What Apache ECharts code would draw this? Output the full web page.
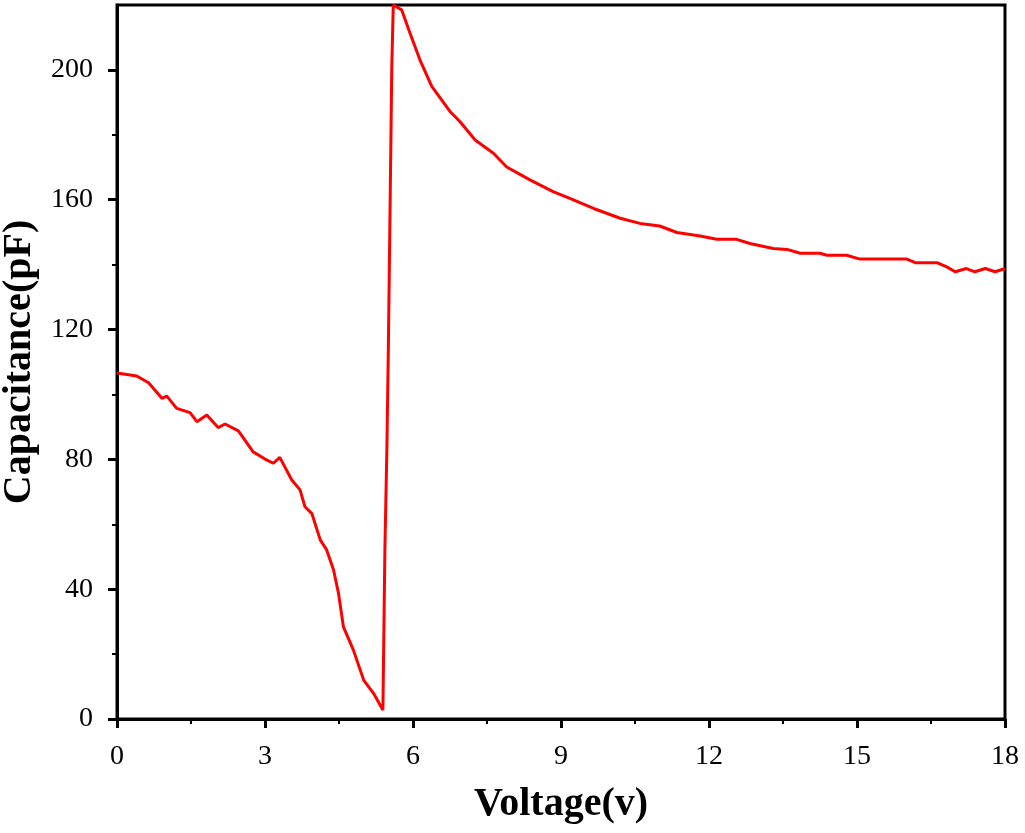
<!DOCTYPE html>
<html>
<head>
<meta charset="utf-8">
<script src="https://cdn.jsdelivr.net/npm/echarts@6/dist/echarts.min.js"></script>
<style>
  html, body { margin: 0; padding: 0; background: #fff; }
  #chart { width: 1025px; height: 833px; }
</style>
</head>
<body>
<div id="chart"></div>
<script>
// voltage (V) and capacitance (pF)
const voltage = [
  0, 0.40, 0.64, 0.91, 1.01, 1.21, 1.48, 1.62, 1.82, 2.05, 2.19, 2.46, 2.76, 3.0, 3.17, 3.30,
  3.54, 3.71, 3.81, 3.95, 4.12, 4.25, 4.39, 4.49, 4.59, 4.79, 5.0, 5.20, 5.39,
  5.43, 5.47, 5.50, 5.57, 5.60, 5.77, 5.94, 6.14, 6.38, 6.75, 6.95, 7.26, 7.63, 7.90,
  8.37, 8.84, 9.18, 9.66, 10.20, 10.60, 11.0, 11.35, 11.82, 12.16, 12.56, 12.83, 13.30,
  13.58, 13.85, 14.25, 14.39, 14.79, 15.06, 16.01, 16.18, 16.62, 16.82, 16.99, 17.22,
  17.39, 17.60, 17.80, 18.0
];
const capacitance = [
  106.6, 105.7, 103.6, 98.8, 99.5, 95.7, 94.4, 91.6, 93.7, 89.8, 90.9, 88.8, 82.3, 80.1, 78.8, 80.6,
  73.7, 70.6, 65.4, 63.3, 55.2, 52.1, 45.9, 38.7, 28.4, 21.3, 12.0, 7.9, 2.8,
  52, 82.9, 113.7, 201, 220, 218.5, 211.3, 203.1, 194.9, 187.2, 184.1, 178.4, 174.3, 170.1,
  166.1, 162.5, 160.4, 157.3, 154.3, 152.7, 151.9, 149.9, 148.8, 147.8, 147.8, 146.5, 145.0,
  144.7, 143.5, 143.5, 142.9, 142.9, 141.7, 141.7, 140.6, 140.6, 139.3, 137.8, 138.8,
  137.8, 138.8, 137.8, 138.8
];

// y ticks stop at 200 even though the frame goes to 220
const yMajorTicks = [0, 40, 80, 120, 160, 200];
const yMinorTicks = [20, 60, 100, 140, 180];

const points = voltage.map((v, i) => [v, capacitance[i]]);

const chart = echarts.init(document.getElementById('chart'), null, { renderer: 'canvas' });

const fontFamily = '"Liberation Serif", "DejaVu Serif", serif';

chart.setOption({
  animation: false,
  backgroundColor: '#fff',
  grid: {
    left: 117, right: 20, top: 5, bottom: 114,
    outerBoundsMode: 'none',
    show: true, borderColor: '#000', borderWidth: 3, backgroundColor: 'transparent'
  },
  xAxis: {
    type: 'value', min: 0, max: 18, interval: 3,
    name: 'Voltage(v)', nameLocation: 'middle', nameGap: 66,
    nameTextStyle: { fontFamily, fontWeight: 'bold', fontSize: 40, color: '#000' },
    axisLine: { lineStyle: { color: '#000', width: 3 } },
    axisTick: { inside: false, length: 9, lineStyle: { width: 3, color: '#000' } },
    minorTick: { show: true, splitNumber: 2, length: 5, lineStyle: { width: 2, color: '#000' } },
    axisLabel: { fontFamily, fontSize: 28, color: '#000', margin: 24 },
    splitLine: { show: false }
  },
  yAxis: [{
    type: 'value', min: 0, max: 220,
    name: 'Capacitance(pF)', nameLocation: 'middle', nameGap: 74,
    nameTextStyle: { fontFamily, fontWeight: 'bold', fontSize: 40, color: '#000' },
    axisLine: { show: true, lineStyle: { color: '#000', width: 3 } },
    axisTick: { show: true, inside: false, length: 9, customValues: yMajorTicks,
      lineStyle: { width: 3, color: '#000' } },
    axisLabel: { fontFamily, fontSize: 28, color: '#000', margin: 24, customValues: yMajorTicks },
    splitLine: { show: false }
  }, {
    type: 'value', min: 0, max: 220, position: 'left',
    axisLine: { show: false },
    axisTick: { show: true, inside: false, length: 5, customValues: yMinorTicks,
      lineStyle: { width: 2, color: '#000' } },
    axisLabel: { show: false },
    splitLine: { show: false }
  }],
  series: [{
    type: 'line',
    data: points,
    showSymbol: false,
    clip: true,
    lineStyle: { color: '#ff0000', width: 3 }
  }]
});
</script>
</body>
</html>
